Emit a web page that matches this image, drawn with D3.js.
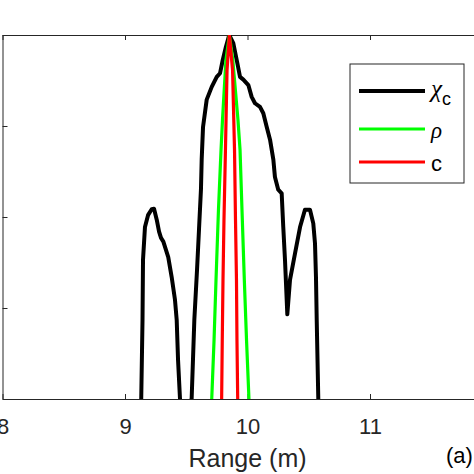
<!DOCTYPE html>
<html>
<head>
<meta charset="utf-8">
<script src="https://cdn.jsdelivr.net/npm/d3@7"></script>
<style>
  body { margin: 0; background: #fff; }
  text { font-family: "Liberation Sans", Arial, sans-serif; }
</style>
</head>
<body>
<div id="vis"></div>
<script>
// range (m) and level (dB)
var chiRange = [9.13, 9.143, 9.147, 9.163, 9.188, 9.218, 9.237, 9.259, 9.278, 9.294, 9.313, 9.353, 9.381, 9.408, 9.422, 9.433, 9.449, 9.473,
  9.53, 9.544, 9.566, 9.588, 9.604, 9.620, 9.626, 9.637, 9.667, 9.708, 9.749, 9.776, 9.798, 9.824, 9.851,
  9.884, 9.917, 9.939, 9.966, 10.007, 10.034, 10.061, 10.102, 10.129, 10.157, 10.184, 10.211, 10.224, 10.251, 10.279,
  10.292, 10.306, 10.325, 10.347, 10.388, 10.429, 10.469, 10.510, 10.537, 10.551, 10.559, 10.565, 10.578, 10.584];
var chiLevel = [-42, -31.3, -24.7, -21.1, -19.8, -19.15, -19.1, -20.3, -21.6, -22.3, -22.7, -24.4, -26.6, -29.1, -31.3, -35.7, -40, -43.4,
  -43, -40, -31.3, -25.8, -21.4, -17.0, -13.7, -10.1, -7.1, -5.7, -4.6, -4.2, -2.75, -1.3, 0,
  -0.9, -3.1, -4.6, -4.9, -5.5, -6.8, -7.5, -7.9, -8.6, -10.1, -11.5, -13.7, -15.6, -17.0, -17.4,
  -21.1, -24.7, -30.7, -26.9, -24.0, -21.1, -19.2, -19.2, -20.7, -22.9, -26.6, -31.3, -40, -43.4];

var rhoRange = [9.702, 9.708, 9.727, 9.743, 9.763, 9.784, 9.796, 9.824, 9.852, 9.880, 9.922, 9.939, 9.955, 9.974, 9.992, 10.012, 10.018];
var rhoLevel = [-41.2, -40, -33.5, -26.9, -19.2, -12.6, -9.3, -2.75, 0, -2.75, -9.3, -12.6, -19.2, -26.9, -33.5, -40, -41.2];

var cRange = [9.788, 9.789, 9.794, 9.800, 9.808, 9.820, 9.833, 9.852, 9.878, 9.894, 9.902, 9.910, 9.914, 9.920, 9.921];
var cLevel = [-41.2, -40, -33.5, -26.9, -20.3, -12.6, -3.85, 0, -3.85, -12.6, -20.3, -26.9, -33.5, -40, -41.2];

var xTicks = [8, 9, 10, 11];
var yTicks = [-40, -30, -20, -10, 0];

var width = 474, height = 474;
var mLeft = 2.5, mRight = 492.5, mTop = 35, mBottom = 399;

var svg = d3.select("#vis").append("svg")
  .attr("width", width)
  .attr("height", height);

var x = d3.scaleLinear().domain([8, 12]).range([mLeft, mRight]);
var y = d3.scaleLinear().domain([-40, 0]).range([mBottom, mTop]);

svg.append("clipPath").attr("id", "plotclip")
  .append("rect")
  .attr("x", mLeft).attr("y", mTop)
  .attr("width", mRight - mLeft).attr("height", mBottom - mTop);

var axisColor = "#262626";

// bottom and top axes, ticks pointing inward
var xAxis = svg.append("g")
  .attr("transform", "translate(0," + mBottom + ")")
  .call(d3.axisBottom(x).tickValues(xTicks).tickFormat(d3.format("d")).tickSizeInner(-5).tickSizeOuter(0).tickPadding(19));
xAxis.selectAll("text").style("font-size", "22px").attr("fill", axisColor);

svg.append("g")
  .attr("transform", "translate(0," + mTop + ")")
  .call(d3.axisTop(x).tickValues(xTicks).tickSizeInner(-5).tickSizeOuter(0).tickFormat(""));

// y tick labels fall outside the cropped picture, so only the marks are drawn
svg.append("g")
  .attr("transform", "translate(" + mLeft + ",0)")
  .call(d3.axisLeft(y).tickValues(yTicks).tickSizeInner(-5).tickSizeOuter(0).tickFormat(""));

svg.selectAll(".domain").attr("stroke", axisColor);
svg.selectAll(".tick line").attr("stroke", axisColor);

var line = d3.line()
  .x(function(d) { return x(d[0]); })
  .y(function(d) { return y(d[1]); });

var plot = svg.append("g").attr("clip-path", "url(#plotclip)");

plot.append("path")
  .datum(d3.zip(chiRange, chiLevel))
  .attr("d", line)
  .attr("fill", "none")
  .attr("stroke", "#000")
  .attr("stroke-width", 4)
  .attr("stroke-linejoin", "round");

plot.append("path")
  .datum(d3.zip(rhoRange, rhoLevel))
  .attr("d", line)
  .attr("fill", "none")
  .attr("stroke", "#00ff00")
  .attr("stroke-width", 3.2)
  .attr("stroke-linejoin", "round");

plot.append("path")
  .datum(d3.zip(cRange, cLevel))
  .attr("d", line)
  .attr("fill", "none")
  .attr("stroke", "#ff0000")
  .attr("stroke-width", 3.2)
  .attr("stroke-linejoin", "round");

// x label and panel tag
svg.append("text")
  .attr("x", x(10))
  .attr("y", 467)
  .attr("text-anchor", "middle")
  .style("font-size", "25px")
  .attr("fill", axisColor)
  .text("Range (m)");

svg.append("text")
  .attr("x", 446)
  .attr("y", 463)
  .style("font-size", "22px")
  .attr("fill", "#000")
  .text("(a)");

// legend
var legend = svg.append("g");
legend.append("rect")
  .attr("x", 350).attr("y", 64)
  .attr("width", 114).attr("height", 119)
  .attr("fill", "#fff")
  .attr("stroke", axisColor)
  .attr("stroke-width", 1);

var legItems = [
  { color: "#000", y: 91, w: 4 },
  { color: "#00ff00", y: 129, w: 3.2 },
  { color: "#ff0000", y: 162, w: 3.2 }
];
legend.selectAll("line.leg").data(legItems).enter().append("line")
  .attr("class", "leg")
  .attr("x1", 359).attr("x2", 425)
  .attr("y1", function(d) { return d.y; })
  .attr("y2", function(d) { return d.y; })
  .attr("stroke", function(d) { return d.color; })
  .attr("stroke-width", function(d) { return d.w; });

var chi = legend.append("text").attr("x", 431).attr("y", 97);
chi.append("tspan")
  .style("font-family", "'Liberation Serif', 'Times New Roman', serif")
  .style("font-style", "italic")
  .style("font-size", "25px")
  .text("χ");
chi.append("tspan")
  .attr("dy", 8)
  .attr("dx", 0)
  .style("font-size", "18px")
  .text("c");

legend.append("text")
  .attr("x", 431).attr("y", 138)
  .style("font-family", "'Liberation Serif', 'Times New Roman', serif")
  .style("font-style", "italic")
  .style("font-size", "23px")
  .text("ρ");

legend.append("text")
  .attr("x", 431).attr("y", 171)
  .style("font-size", "22px")
  .text("c");
</script>
</body>
</html>
